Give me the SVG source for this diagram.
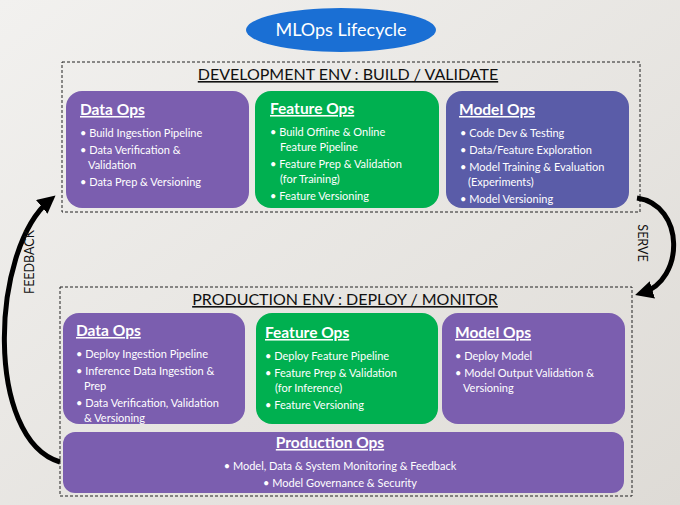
<svg xmlns="http://www.w3.org/2000/svg" width="680" height="505" viewBox="0 0 680 505">
<defs>
<linearGradient id="bg" x1="0" y1="0" x2="1" y2="1"><stop offset="0" stop-color="#f2f1ef"/><stop offset="1" stop-color="#dedbd6"/></linearGradient>
<marker id="ah" viewBox="0 0 10 10" refX="6" refY="5" markerWidth="3.6" markerHeight="3.6" orient="auto"><path d="M0,0 L10,5 L0,10 z" fill="#000"/></marker>
<style>
text{font-family:Lato,"Open Sans","Liberation Sans",sans-serif;}
.env{fill:none;stroke:#222;stroke-width:1;stroke-dasharray:3,2}
.et{font-size:16px;fill:#111;text-decoration:underline;text-anchor:middle}
.h{font-size:15.5px;font-weight:bold;fill:#fff;text-decoration:underline}
.b{font-size:11px;fill:#fff}
.purple{fill:#7b5eaf}
.green{fill:#00b050}
.blue{fill:#5a5ca8}
.conn{fill:none;stroke:#000;stroke-width:5}
.lab{font-size:12.5px;fill:#111;text-anchor:middle}
</style>
</defs>
<rect width="680" height="505" fill="url(#bg)"/>
<g id="title"><ellipse cx="341" cy="30" rx="95" ry="22" fill="#1a6fd4"/><text x="341" y="36" text-anchor="middle" font-size="18" fill="#fff">MLOps Lifecycle</text></g>
<g id="dev-env"><rect class="env" x="62" y="62" width="578" height="150"/><text class="et" x="348" y="80">DEVELOPMENT ENV : BUILD / VALIDATE</text></g>
<g id="dev-data"><rect class="purple" x="66" y="91" width="183" height="117" rx="16"/><text class="h" x="80" y="115">Data Ops</text>
<text class="b" x="80" y="137">• Build Ingestion Pipeline</text><text class="b" x="80" y="154">• Data Verification &amp;</text><text class="b" x="88" y="169">Validation</text><text class="b" x="80" y="186">• Data Prep &amp; Versioning</text></g>
<g id="dev-feature"><rect class="green" x="255" y="91" width="184" height="117" rx="16"/><text class="h" x="270" y="114">Feature Ops</text>
<text class="b" x="270" y="136">• Build Offline &amp; Online</text><text class="b" x="280" y="151">Feature Pipeline</text><text class="b" x="270" y="168">• Feature Prep &amp; Validation</text><text class="b" x="280" y="183">(for Training)</text><text class="b" x="270" y="200">• Feature Versioning</text></g>
<g id="dev-model"><rect class="blue" x="446" y="91" width="183" height="117" rx="16"/><text class="h" x="459" y="115">Model Ops</text>
<text class="b" x="460" y="137">• Code Dev &amp; Testing</text><text class="b" x="460" y="154">• Data/Feature Exploration</text><text class="b" x="460" y="171">• Model Training &amp; Evaluation</text><text class="b" x="468" y="186">(Experiments)</text><text class="b" x="460" y="203">• Model  Versioning</text></g>
<g id="prod-env"><rect class="env" x="60" y="287" width="572" height="209"/><text class="et" x="345" y="305">PRODUCTION ENV : DEPLOY / MONITOR</text></g>
<g id="prod-data"><rect class="purple" x="63" y="313" width="182" height="111" rx="16"/><text class="h" x="76" y="336">Data Ops</text>
<text class="b" x="76" y="358">• Deploy Ingestion Pipeline</text><text class="b" x="76" y="375">• Inference Data Ingestion &amp;</text><text class="b" x="84" y="390">Prep</text><text class="b" x="76" y="407">• Data Verification, Validation</text><text class="b" x="84" y="422">&amp; Versioning</text></g>
<g id="prod-feature"><rect class="green" x="256" y="313" width="182" height="111" rx="16"/><text class="h" x="265" y="338">Feature Ops</text>
<text class="b" x="265" y="360">• Deploy Feature Pipeline</text><text class="b" x="265" y="377">• Feature Prep &amp; Validation</text><text class="b" x="275" y="392">(for Inference)</text><text class="b" x="265" y="409">• Feature Versioning</text></g>
<g id="prod-model"><rect class="purple" x="442" y="313" width="183" height="111" rx="16"/><text class="h" x="455" y="338">Model Ops</text>
<text class="b" x="455" y="360">• Deploy Model</text><text class="b" x="455" y="377">• Model Output Validation &amp;</text><text class="b" x="463" y="392">Versioning</text></g>
<g id="prod-ops"><rect class="purple" x="63" y="432" width="561" height="61" rx="12"/><text class="h" x="330" y="448" text-anchor="middle">Production Ops</text>
<text class="b" x="340" y="470" text-anchor="middle">•      Model, Data &amp; System Monitoring &amp; Feedback</text><text class="b" x="340" y="487" text-anchor="middle">•      Model Governance &amp; Security</text></g>
<g id="connectors">
<path class="conn" d="M637,198 C685,205 685,280 642,293" marker-end="url(#ah)"/>
<path class="conn" d="M60,462 C-15,440 -10,250 50,200" marker-end="url(#ah)"/>
<text class="lab" transform="translate(638,243) rotate(90)">SERVE</text>
<text class="lab" transform="translate(34,262) rotate(-90)">FEEDBACK</text>
</g>
</svg>
